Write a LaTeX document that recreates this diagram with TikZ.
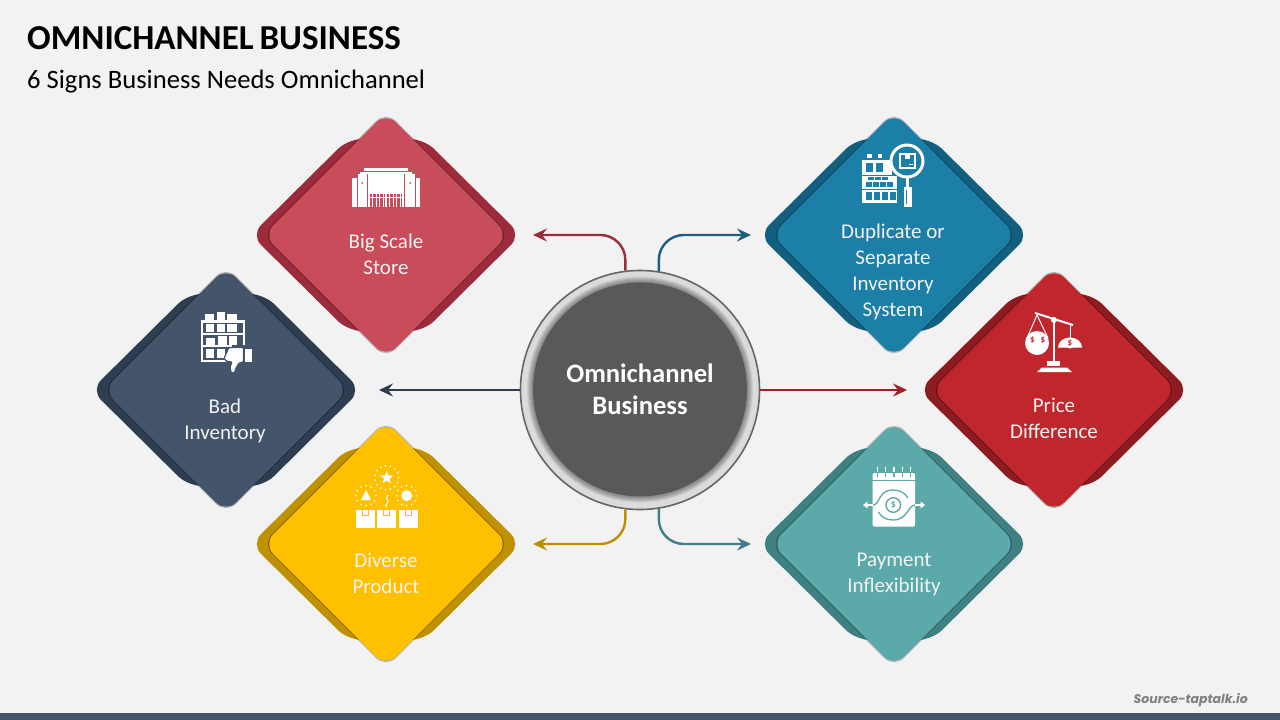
\documentclass[tikz,border=0pt]{standalone}
\usepackage{fontspec}
\setmainfont{Carlito}
\newfontfamily\sourcefont{Poppins}
\usetikzlibrary{arrows.meta,shapes.geometric,shadows}

\definecolor{pagebg}{HTML}{F2F2F2}
\definecolor{barcol}{HTML}{44546A}
\definecolor{storefront}{HTML}{C94C5B}
\definecolor{storeback}{HTML}{9C2C3C}
\definecolor{storeline}{HTML}{9C2C3C}
\definecolor{dupfront}{HTML}{1C7FA8}
\definecolor{dupback}{HTML}{135F7F}
\definecolor{dupline}{HTML}{1C5F80}
\definecolor{badfront}{HTML}{44546A}
\definecolor{badback}{HTML}{2E3D50}
\definecolor{badline}{HTML}{2E3D50}
\definecolor{pricefront}{HTML}{C0272D}
\definecolor{priceback}{HTML}{8E1B20}
\definecolor{priceline}{HTML}{9C2228}
\definecolor{diversefront}{HTML}{FFC000}
\definecolor{diverseback}{HTML}{BF9000}
\definecolor{diverseline}{HTML}{BF9000}
\definecolor{payfront}{HTML}{5BA9A9}
\definecolor{payback}{HTML}{3F8083}
\definecolor{payline}{HTML}{3F7F88}

\tikzset{
	signbox/.style={diamond, aspect=1, inner sep=0pt, outer sep=0pt, minimum width=245pt, minimum height=245pt, rounded corners=14pt},
	signtext/.style={align=center, text=white!95!black, font=\fontsize{21}{26}\selectfont},
	link/.style={line width=2.4pt, rounded corners=25pt, -{Stealth[length=14pt,width=13pt,inset=5pt]}},
	ink/.style={fill=white, draw=none},
}

\begin{document}
\begin{tikzpicture}[x=1pt,y=-1pt]
	\useasboundingbox (0,0) rectangle (1280,720);
	\fill[pagebg] (0,0) rectangle (1280,720);
	\fill[barcol] (0,713) rectangle (1280,720);

	\node[anchor=base west, inner sep=0pt, font=\fontsize{35}{40}\selectfont\bfseries] (title) at (27,49.7) {OMNICHANNEL\hspace{-2pt} BUSINESS};
	\node[anchor=base west, inner sep=0pt, font=\fontsize{26.6}{30}\selectfont] (subtitle) at (27,88) {6 Signs Business Needs Omnichannel};
	\node[anchor=base east, inner sep=0pt, text=gray, font=\fontsize{12.5}{15}\sourcefont\bfseries\itshape] (source) at (1248,703) {Source-taptalk.io};

	% the six signs
	\foreach \name/\cx/\cy in {store/386/235, dup/894/235, bad/226/390, price/1054/390, diverse/386/544, pay/894/544} {
		\fill[\name back, rounded corners=14pt, shift={(\cx,\cy)}] (-135,0) -- (-38,-96) -- (38,-96) -- (135,0) -- (38,96) -- (-38,96) -- cycle;
		\node[signbox, fill=\name front, drop shadow={shadow xshift=0pt, shadow yshift=0pt, shadow scale=1.012, fill=black, opacity=0.25}] (\name) at (\cx,\cy) {};
	}
	\node[signtext] (storetext) at (386,254) {Big Scale\\Store};
	\node[signtext] (duptext) at (893,272) {Duplicate or\\Separate\\Inventory\\System};
	\node[signtext] (badtext) at (225,421) {Bad\\Inventory};
	\node[signtext] (pricetext) at (1054,418) {Price\\Difference};
	\node[signtext] (diversetext) at (386,573) {Diverse\\Product};
	\node[signtext] (paytext) at (894,574) {Payment\\Inflexibility};

	% centre circle
	\node[circle, inner sep=0pt, minimum size=239pt, fill=black!14, draw=black!60, line width=1.6pt] (hub) at (640,390) {};
	\foreach \r in {113,112,111,110,109,108} {
		\fill[black, opacity=0.07] (640,389.5) circle (\r);
	}
	\node[circle, inner sep=0pt, minimum size=214pt, fill=black!65, align=center, text=white, font=\fontsize{26.6}{32}\selectfont\bfseries] (core) at (640,389.4) {Omnichannel\\Business};

	% arrows
	\coordinate (storeend) at (533,235);
	\coordinate (dupend) at (751,235);
	\coordinate (badend) at (379,390);
	\coordinate (priceend) at (907,390);
	\coordinate (diverseend) at (533,544);
	\coordinate (payend) at (751,544);
	\draw[link, storeline] (hub.97) |- (storeend);
	\draw[link, dupline] (hub.81) |- (dupend);
	\draw[link, badline] (hub.west) -- (badend);
	\draw[link, priceline] (hub.east) -- (priceend);
	\draw[link, diverseline] (hub.263) |- (diverseend);
	\draw[link, payline] (hub.279) |- (payend);

	% store icon
	\fill[ink] (364,168) rectangle (408,170.5);
	\fill[ink] (360,171.5) rectangle (412,173.5);
	\fill[ink] (352,178) rectangle (356.5,207);
	\fill[ink] (415.5,178) rectangle (420,207);
	\fill[ink] (357.5,174) rectangle (414.5,207);
	\fill[storefront] (367,174) rectangle (367.8,207);
	\fill[storefront] (404.2,174) rectangle (405,207);
	\fill[storefront] (370,194) rectangle (402,207);
	\foreach \x in {372,375.5,379,382.5,389,392.5,396,399.5} {
		\fill[ink] (\x,194) rectangle (\x+1.2,207);
	}
	\fill[ink] (369,197) rectangle (403,198);
	\fill[ink] (385,194) rectangle (387,207);
	\fill[storefront] (362,183) circle (1);
	\fill[storefront] (410,183) circle (1);

	% shelf and magnifier icon
	\fill[ink] (867,154) rectangle (872,158);
	\fill[ink] (878,154) rectangle (882,158);
	\fill[ink] (862,160) rectangle (892,174.5);
	\fill[ink] (862,175.5) rectangle (900,189);
	\fill[ink] (862,190) rectangle (900,203);
	\foreach \x in {866,875.5} {
		\fill[dupfront] (\x,163) rectangle (\x+7,172);
	}
	\foreach \x in {868,875,882} {
		\fill[dupfront] (\x,177) rectangle (\x+5.5,180);
	}
	\foreach \x in {866,873,880,887} {
		\fill[dupfront] (\x,182) rectangle (\x+5.5,187);
	}
	\foreach \x in {866,874,882,890} {
		\fill[dupfront] (\x,192) rectangle (\x+5.5,200);
	}
	\fill[dupfront] (897,174) rectangle (903,205);
	\draw[white, line width=3pt, fill=dupfront] (907,161) circle (16);
	\draw[white, line width=1.6pt] (900,154) rectangle (915,168);
	\fill[ink] (905,153.5) rectangle (910,158.5);
	\fill[ink] (909,163.5) rectangle (913,165);
	\fill[ink] (906,178) rectangle (909,188);
	\fill[ink] (904,187) rectangle (912,207);
	\fill[dupfront] (906,190) rectangle (907,204);

	% bad inventory icon
	\fill[ink] (200.7,320) rectangle (203.3,362);
	\fill[ink] (242.7,320) rectangle (245,345);
	\fill[ink] (200.7,320) rectangle (245,322.7);
	\fill[ink] (200.7,332.7) rectangle (245,335);
	\fill[ink] (200.7,345) rectangle (232,347.3);
	\fill[ink] (200.7,359.5) rectangle (226,361.7);
	\foreach \xa/\ya/\xb/\yb in {205/313.5/214/320, 216.7/312.3/225/320, 227.3/314/236.7/320, 205.7/323.5/214/332, 216.7/323.5/225/332, 227.3/324/236.7/332, 205.7/337.5/215/345, 217.7/336/226.7/345, 229.3/336/237.3/345, 205.7/349/214/358, 216.7/349/225/358} {
		\fill[ink] (\xa,\ya) rectangle (\xb,\yb);
	}
	\fill[ink, draw=badfront, line width=1.2pt, rounded corners=1pt] (229,347.5) -- (243.5,347.5) -- (243.5,362) -- (239,363) -- (236,368) -- (234.5,373) -- (231,372.5) -- (230,367) -- (232,362) -- (226,361) -- (224,358) -- cycle;
	\fill[ink] (245,349.3) rectangle (251.7,361.7);

	% price icon
	\fill[ink] (1052.7,317) rectangle (1055.3,362);
	\draw[white, line width=2pt] (1035,313) -- (1073,325);
	\fill[ink] (1054,320) circle (3);
	\fill[ink] (1047,361) rectangle (1060,366);
	\fill[ink] (1042,367.5) -- (1067,367.5) -- (1072,372) -- (1037,372) -- cycle;
	\draw[white, line width=1pt] (1027,338) -- (1037,315) -- (1048,338);
	\fill[ink] (1037,343) circle (12);
	\draw[white, line width=1pt] (1070,325) -- (1070,340);
	\fill[ink] (1070,343) circle (5.5);
	\fill[ink] (1058,347.5) -- (1082,347.5) arc[start angle=0, end angle=-180, x radius=12, y radius=10] -- cycle;
	\node[text=pricefront, inner sep=0pt, font=\fontsize{9}{9}\selectfont\bfseries] (dollarl) at (1032.5,340) {\$};
	\node[text=pricefront, inner sep=0pt, font=\fontsize{9}{9}\selectfont\bfseries] (dollarm) at (1043,340) {\$};
	\node[text=pricefront, inner sep=0pt, font=\fontsize{9}{9}\selectfont\bfseries] (dollarr) at (1070,343) {\$};

	% diverse product icon
	\foreach \x in {356,377.3,399} {
		\fill[ink] (\x,510) rectangle (\x+18.7,527.7);
		\draw[diversefront, line width=1pt] (\x+6.5,510) -- (\x+6.5,515.5) -- (\x+12.2,515.5) -- (\x+12.2,510);
	}
	\foreach \a in {0,24,...,336} {
		\fill[white] (386.7,477.7) ++(\a:12) circle (1);
	}
	\foreach \a in {0,30,...,330} {
		\fill[white] (366,495.7) ++(\a:10) circle (1);
		\fill[white] (406.7,495.7) ++(\a:10) circle (1);
	}
	\fill[ink] (386.7,470.7) -- (388.4,475.4) -- (393.4,475.6) -- (389.4,478.6) -- (390.8,483.4) -- (386.7,480.6) -- (382.6,483.4) -- (384,478.6) -- (380,475.6) -- (385,475.4) -- cycle;
	\fill[ink] (366,490) -- (371,500) -- (361,500) -- cycle;
	\fill[ink] (406.7,495.7) circle (5.5);
	\draw[white, line width=1.2pt] (388,495) .. controls (384,498) and (390,501) .. (387,503.5) .. controls (386,505) and (385.5,506) .. (386,507.5);

	% payment icon
	\fill[ink, rounded corners=1.5pt] (872.7,473) rectangle (915,526.7);
	\fill[payfront] (872,480) rectangle (916,481.3);
	\foreach \x in {877.3,885.7,894,902.3,910.7} {
		\draw[white, line width=1.5pt] (\x,466.7) -- (\x,472);
		\draw[payfront, line width=1.5pt] (\x,472) -- (\x,476.7);
	}
	\draw[payfront, line width=1.4pt] (893.3,505) circle (7.3);
	\node[text=payfront, inner sep=0pt, font=\fontsize{10}{10}\selectfont\bfseries] (dollarp) at (893.3,505) {\$};
	\draw[payfront, line width=1.3pt] (873,505) .. controls (880,505) and (878,490) .. (893,490) .. controls (900,490) and (905,493) .. (908,498);
	\draw[payfront, line width=1.3pt] (915,505) .. controls (908,505) and (908,520) .. (893,520) .. controls (886,520) and (881,517) .. (878.5,512);
	\draw[white, line width=1.3pt] (865,505) -- (873,505);
	\draw[white, line width=1.3pt] (915,505) -- (923,505);
	\fill[ink] (863,505) -- (867.5,501.5) -- (867.5,508.5) -- cycle;
	\fill[ink] (925,505) -- (920.5,501.5) -- (920.5,508.5) -- cycle;
\end{tikzpicture}
\end{document}
